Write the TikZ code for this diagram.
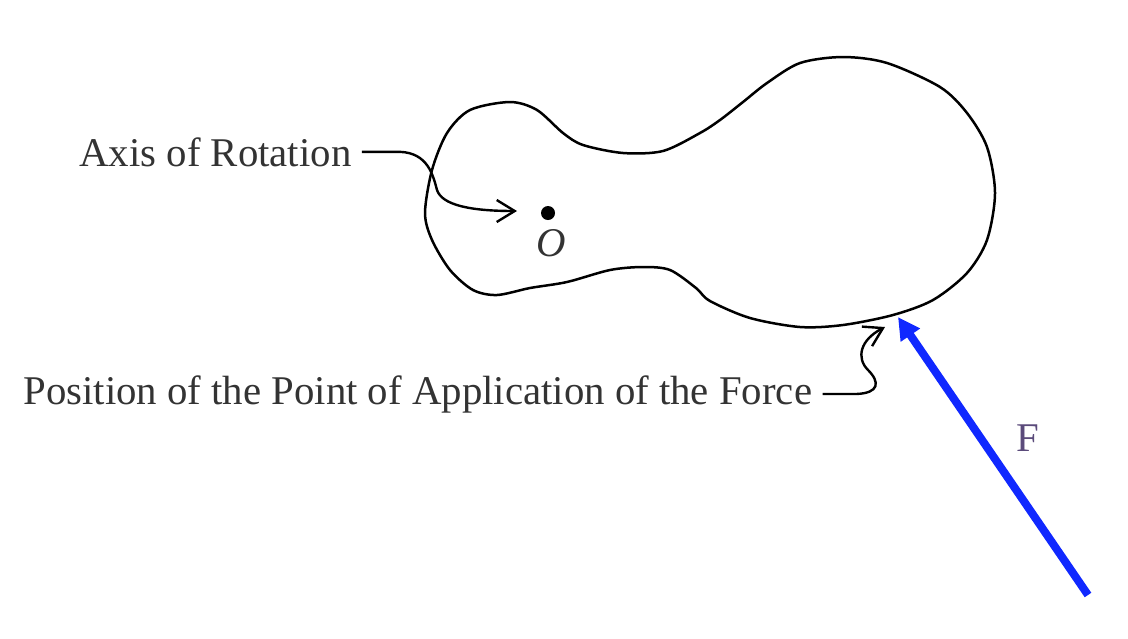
\documentclass[tikz,border=0pt]{standalone}
\usepackage{fontspec}
\setmainfont{Liberation Serif}
\usetikzlibrary{arrows.meta}
\definecolor{textgray}{HTML}{333333}
\definecolor{forceblue}{HTML}{1028FF}
\definecolor{flabel}{HTML}{5B4B7B}
\begin{document}
\begin{tikzpicture}[x=0.5pt,y=-0.5pt,
    caption/.style={text=textgray,font=\fontsize{20.4}{24}\selectfont,inner sep=1pt},
    pointer/.style={line width=1.2pt,-{Straight Barb[length=9pt,width=11pt]}}]
    \useasboundingbox (0,0) rectangle (1128,638);

    % Body outline
    \draw[line width=1.25pt] plot[smooth cycle,tension=0.5] coordinates {
        (510,102) (537,110) (563,133) (583,145) (623,153) (663,151)
        (700,133) (720,120) (743,102) (767,83) (800,63) (843,57)
        (887,63) (940,87) (967,113) (987,147) (995,193) (987,240)
        (967,273) (933,300) (893,315) (843,325) (800,327) (750,318)
        (710,301) (696,288) (670,270) (643,267) (610,270) (567,282)
        (530,288) (497,295) (473,290) (450,270) (432,240) (425,213)
        (432,170) (447,133) (470,110)
    };

    % Axis of rotation
    \fill (548,213) circle (3.5pt) coordinate (axis);
    \node[caption,font=\fontsize{20.4}{24}\selectfont\itshape] (olabel) at (551,243) {O};

    % Labels
    \node[caption,anchor=base west] (axislabel) at (77,166) {Axis of Rotation};
    \node[caption,anchor=base west] (forcelabel) at (21,404)
        {Position of the Point of Application of the Force};

    \coordinate (axistip) at (517,211);
    \coordinate (pointtip) at (885,327);
    \draw[pointer] ([xshift=4pt]axislabel.east) -- ++(38,0)
        .. controls +(28,1) and (433,175) .. (437,190)
        .. controls (442,205) and (470,211) .. (axistip);
    \draw[pointer] ([xshift=4pt]forcelabel.east) -- ++(34,0)
        .. controls +(23,-1) and (880,382) .. (868,370)
        .. controls (856,358) and (860,340) .. (pointtip);

    % Force
    \coordinate (ftail) at (1088,595);
    \coordinate (fhead) at (898,317);
    \draw[forceblue,line width=4pt,-{Triangle[length=11pt,width=11pt]}] (ftail) -- (fhead);
    \node[caption,text=flabel] (flab) at (1028,438) {F};

\end{tikzpicture}
\end{document}
